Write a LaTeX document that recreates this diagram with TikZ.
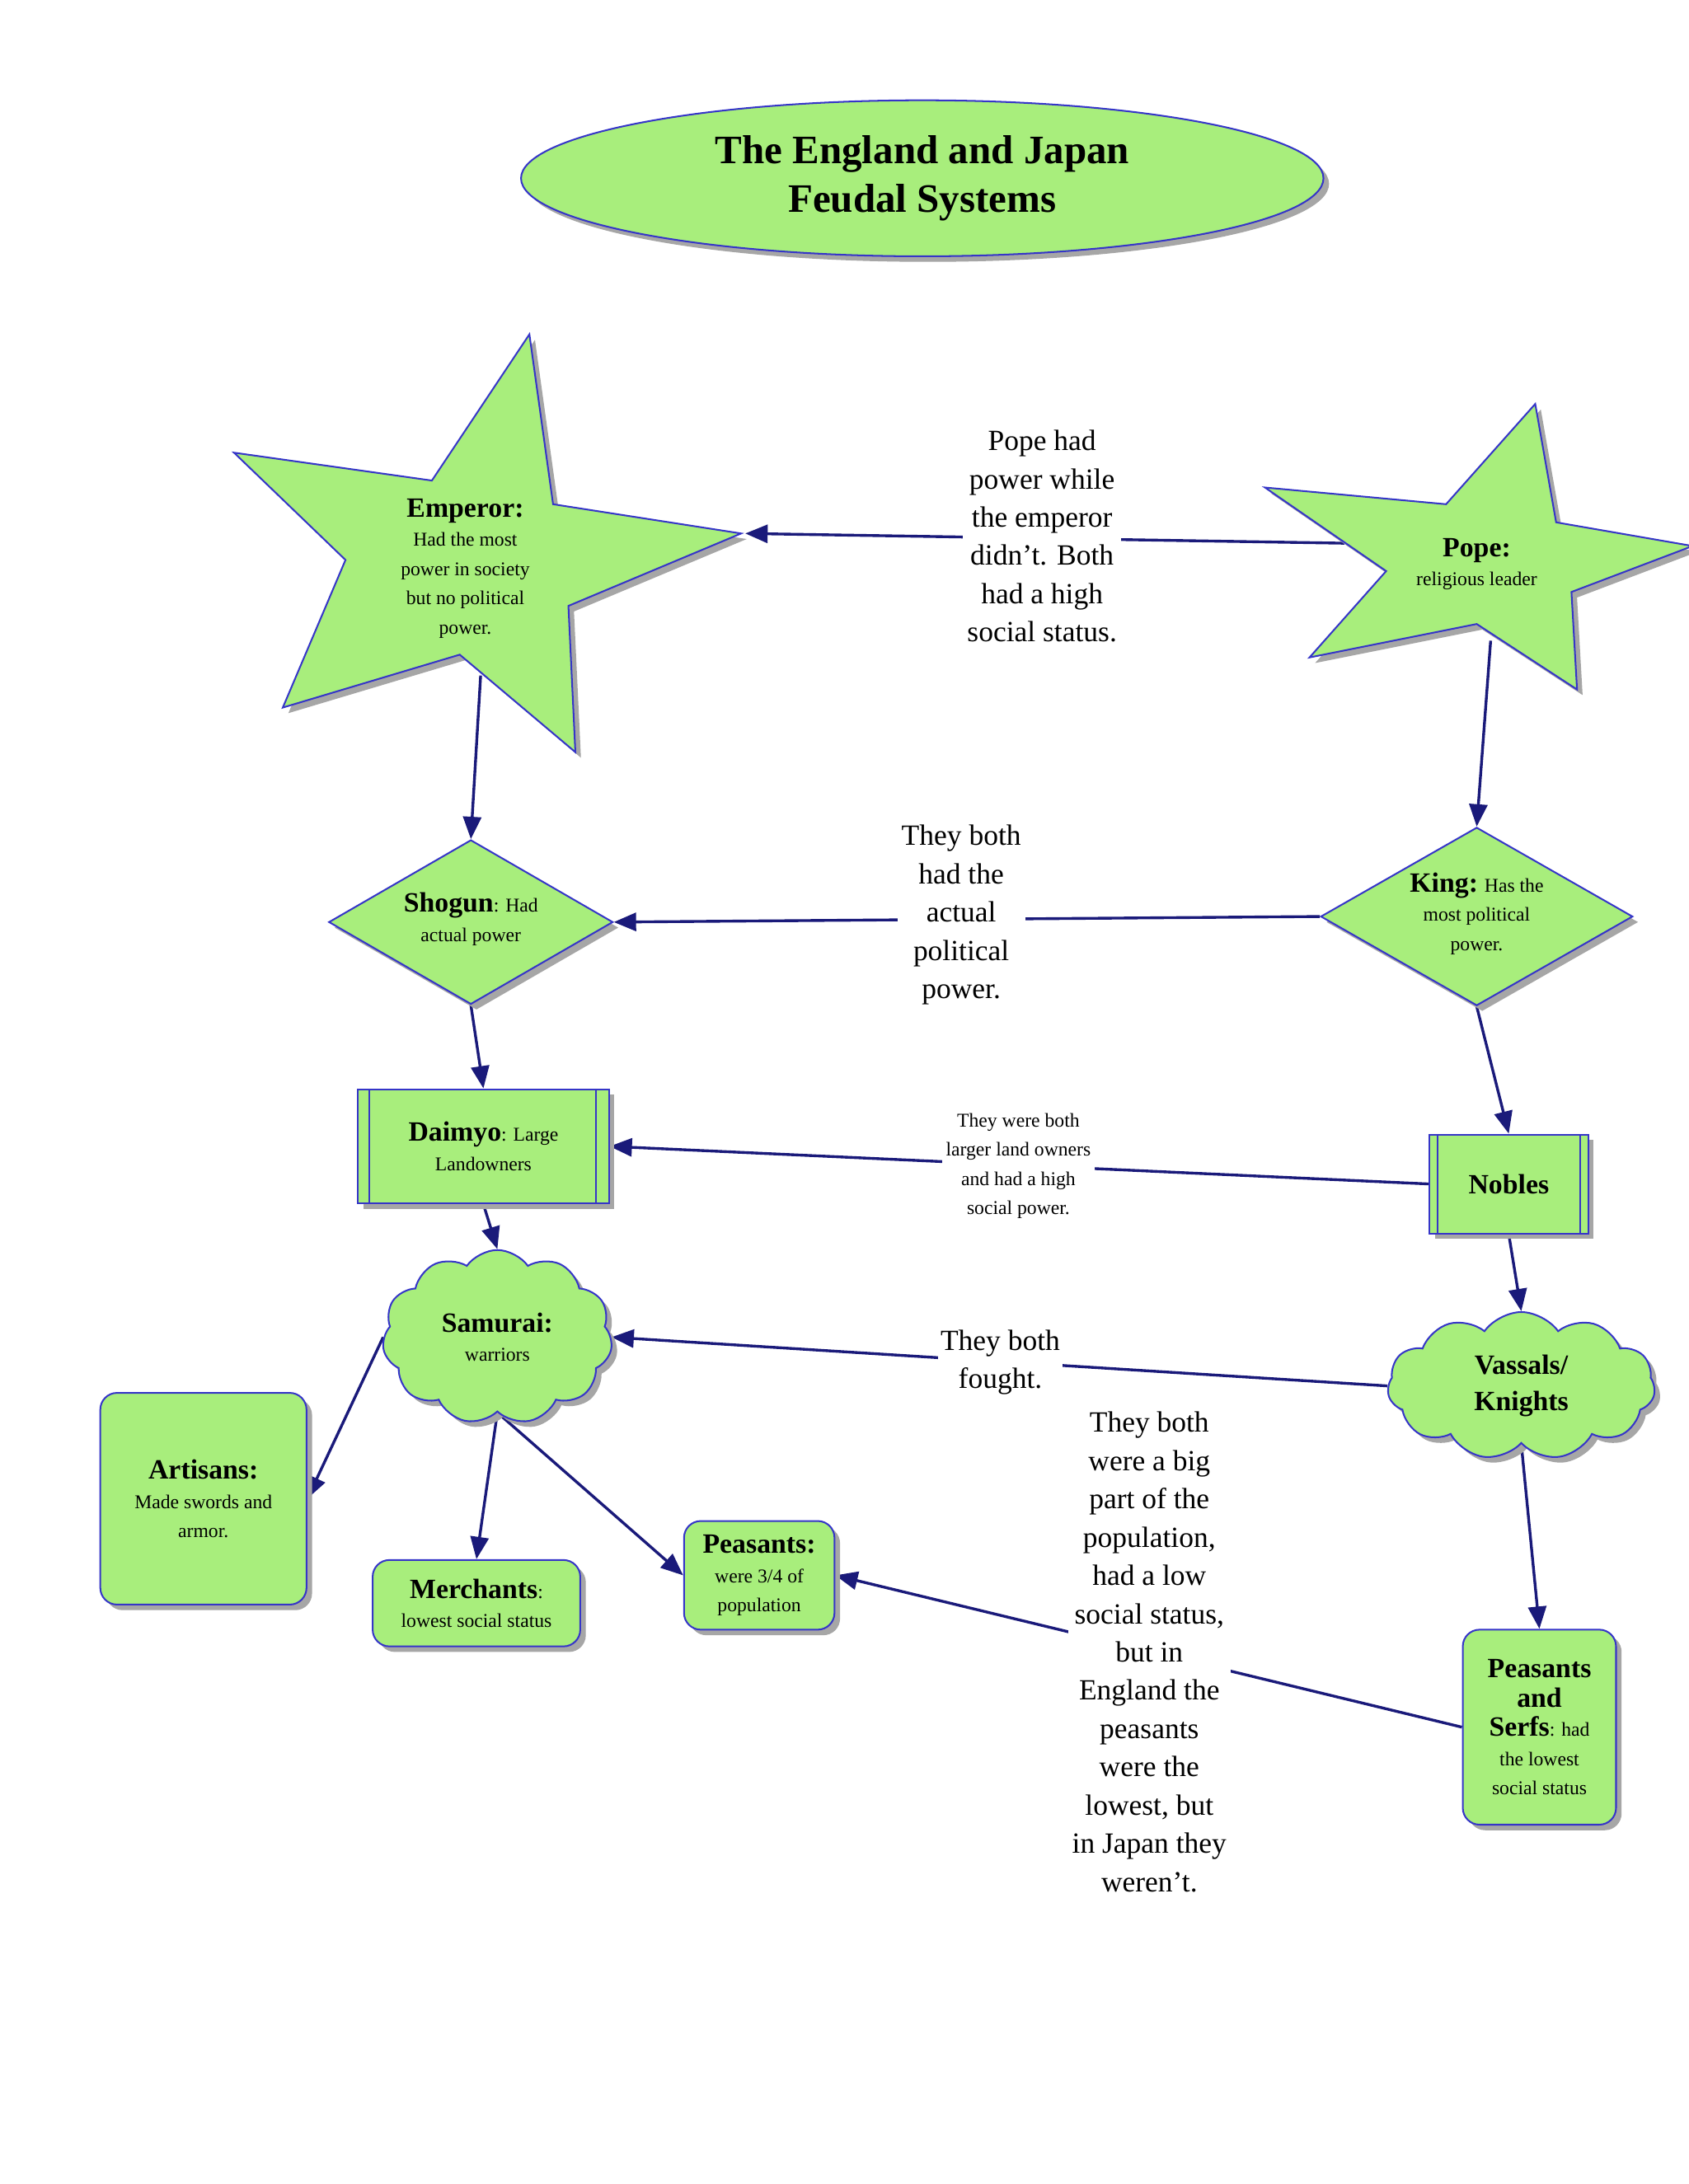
\documentclass[tikz,border=0pt]{standalone}
\usepackage{fontspec}
\setmainfont{Liberation Serif}
\usetikzlibrary{shapes.geometric,shapes.symbols,shadows,arrows.meta}
\definecolor{gfill}{HTML}{A8EE7C}
\definecolor{gline}{HTML}{3535C8}
\definecolor{arr}{HTML}{1A1A7A}
\pgfdeclarelayer{bg}\pgfsetlayers{bg,main}
\tikzset{
 shp/.style={fill=gfill,draw=gline,line width=1.2pt,drop shadow={shadow xshift=4pt,shadow yshift=-4pt,fill=gray!70,opacity=1}},
 rr/.style={shp,rounded corners=12pt,align=center,inner sep=0pt},
 con/.style={draw=arr,line width=2pt,-{Triangle[length=16pt,width=13pt]}},
 lab/.style={fill=white,align=center,inner sep=3pt,font=\fontsize{21}{27.5}\selectfont},
 slab/.style={fill=white,align=center,inner sep=3pt,font=\fontsize{14}{21}\selectfont},
 big/.style={font=\fontsize{20}{26}\selectfont\bfseries},
}
\newcommand{\bb}[1]{{\fontsize{20}{26}\selectfont\bfseries #1}}
\begin{document}
\begin{tikzpicture}[x=1pt,y=-1pt]
\begin{pgfonlayer}{bg}
\fill[white] (0,0) rectangle (1212,1568);
\end{pgfonlayer}
\useasboundingbox (0,0) rectangle (1212,1568);
% title
\node[shp,ellipse,minimum width=576,minimum height=112,align=center,font=\fontsize{29}{35}\selectfont\bfseries] (title) at (662,128) {The England and Japan\\Feudal Systems};
% stars
\filldraw[shp] (380,240)--(397,362)--(532,383)--(408,435)--(413,540)--(330,470)--(203,508)--(248,402)--(168,325)--(310,345)--cycle;
\node[align=center,font=\fontsize{14}{21}\selectfont] (emp) at (334,408) {\bb{Emperor:}\\Had the most\\power in society\\but no political\\power.};
\filldraw[shp] (1102,290)--(1117,375)--(1215,392)--(1128,425)--(1132,495)--(1060,448)--(940,472)--(995,410)--(908,350)--(1038,362)--cycle;
\node[align=center,font=\fontsize{14}{21}\selectfont] (pope) at (1060,405) {\bb{Pope:}\\religious leader};
\coordinate (empR) at (535,383); \coordinate (popeL) at (965,390);
\coordinate (empB) at (345,485); \coordinate (popeB) at (1070,460);
% diamonds
\node[shp,diamond,minimum width=204,minimum height=118,inner sep=0pt] (shogun) at (338,662) {};
\node[align=center,font=\fontsize{14}{21}\selectfont] at (338,660) {\bb{Shogun}: Had\\actual power};
\node[shp,diamond,minimum width=224,minimum height=128,inner sep=0pt] (king) at (1060,658) {};
\node[align=center,font=\fontsize{14}{21}\selectfont] at (1060,656) {\bb{King:} Has the\\most political\\power.};
% rects
\node[shp,minimum width=180,minimum height=82,align=center,inner sep=0pt,font=\fontsize{14}{21}\selectfont] (daimyo) at (347,823) {\bb{Daimyo}: Large\\Landowners};
\draw[gline,line width=1.2pt] (265,782)--(265,864) (428,782)--(428,864);
\node[shp,minimum width=114,minimum height=71,inner sep=0pt,big] (nobles) at (1083,850) {Nobles};
\draw[gline,line width=1.2pt] (1032,815)--(1032,886) (1134,815)--(1134,886);
% clouds
\node[shp,cloud,cloud puffs=11,cloud puff arc=110,minimum width=165,minimum height=80,inner sep=0pt,align=center,font=\fontsize{14}{21}\selectfont] (samurai) at (357,960) {\bb{Samurai:}\\warriors};
\node[shp,cloud,cloud puffs=11,cloud puff arc=110,minimum width=192,minimum height=92,inner sep=0pt,align=center,big] (vassals) at (1092,995) {Vassals/\\Knights};
% rounded rects
\node[rr,minimum width=148,minimum height=152,font=\fontsize{14}{21}\selectfont] (artisans) at (146,1076) {\bb{Artisans:}\\Made swords and\\armor.};
\node[rr,minimum width=149,minimum height=62,font=\fontsize{14}{21}\selectfont] (merchants) at (342,1151) {\bb{Merchants}:\\lowest social status};
\node[rr,minimum width=108,minimum height=78,font=\fontsize{14}{21}\selectfont] (peasants) at (545,1131) {\bb{Peasants:}\\were 3/4 of\\population};
\node[rr,minimum width=110,minimum height=140,font=\fontsize{14}{21}\selectfont] (serfs) at (1105,1240) {\bb{Peasants}\\\bb{and}\\\bb{Serfs}: had\\the lowest\\social status};
% labels
\node[lab] (l1) at (748,385) {Pope had\\power while\\the emperor\\didn't. Both\\had a high\\social status.};
\node[lab] (l2) at (690,657) {They both\\had the\\actual\\political\\power.};
\node[slab] (l3) at (731,837) {They were both\\larger land owners\\and had a high\\social power.};
\node[lab,inner sep=2pt] (l4) at (718,978) {They both\\fought.};
\node[lab] (l5) at (825,1186) {They both\\were a big\\part of the\\population,\\had a low\\social status,\\but in\\England the\\peasants\\were the\\lowest, but\\in Japan they\\weren't.};
\begin{pgfonlayer}{bg}
\draw[con] (popeL) -- (empR);
\draw[con] (popeB) -- (king.north);
\draw[con] (empB) -- (shogun.north);
\draw[con] (king.west) -- (shogun.east);
\draw[con] (shogun.south) -- (daimyo.north);
\draw[con] (king.south) -- (nobles.north);
\draw[con] (nobles.west) -- (daimyo.east);
\draw[con] (daimyo.south) -- (samurai.north);
\draw[con] (nobles.south) -- (vassals.north);
\draw[con] (vassals.west) -- (samurai.east);
\draw[con] (samurai.west) -- (artisans.east);
\draw[con] (samurai.south) -- (merchants.north);
\draw[con] (samurai.south) -- (peasants.west);
\draw[con] (vassals.south) -- (serfs.north);
\draw[con] (serfs.west) -- (peasants.east);
\end{pgfonlayer}
\end{tikzpicture}
\end{document}
